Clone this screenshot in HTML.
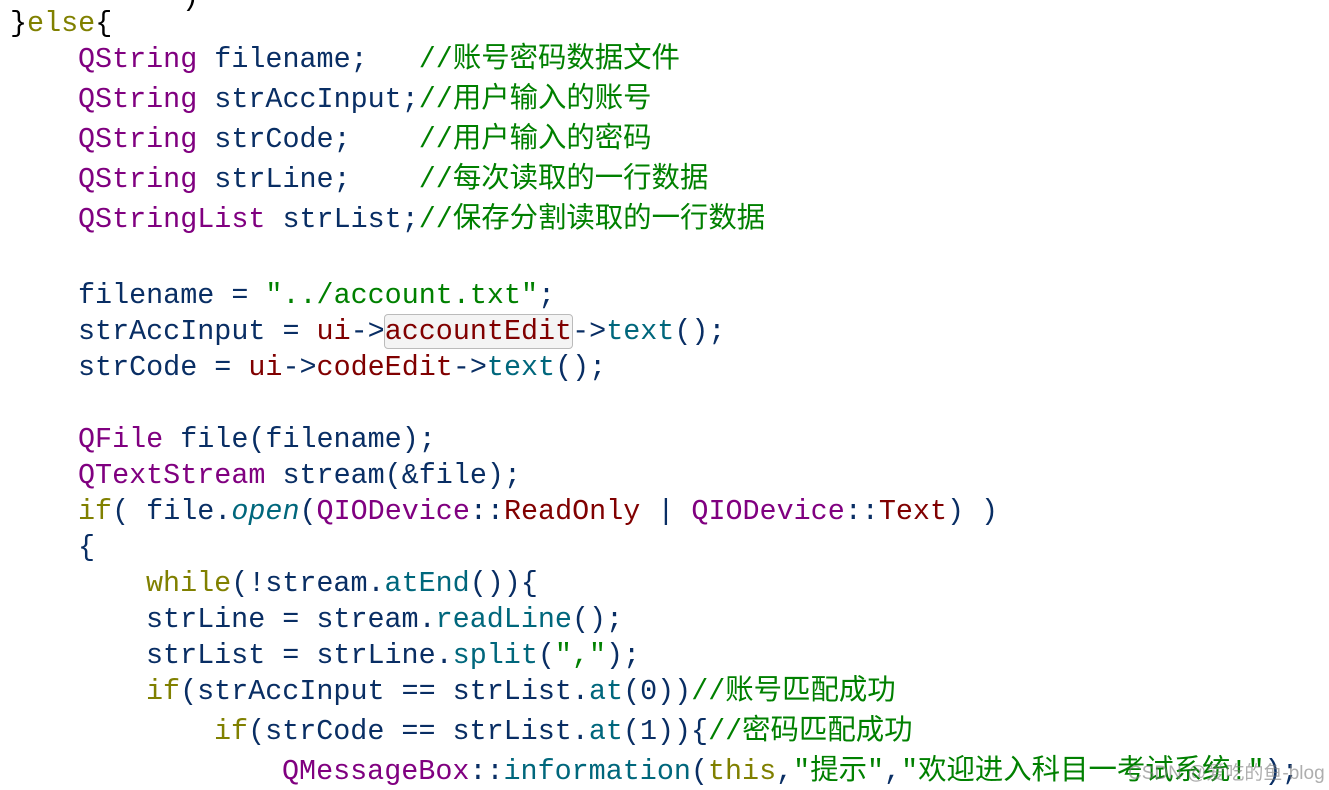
<!DOCTYPE html>
<html><head><meta charset="utf-8"><style>
body{margin:0;width:1329px;height:788px;background:#fff;overflow:hidden;position:relative}
.l{position:absolute;white-space:pre;font-family:"Liberation Mono","Noto Sans CJK SC",monospace;font-size:28.4px;line-height:36px;color:#092e64}
.t{color:#800080}.c{color:#008000;font-family:"Liberation Mono","Noto Sans CJK SC",monospace}.k{color:#808000}.m{color:#800000}.f{color:#00677c}.s{color:#008000}
.b{color:#000}
.h{outline:1px solid #bbb;background:#f4f4f4;border-radius:3px}
.w{position:absolute;left:1128px;top:758px;font-family:"Liberation Sans","Noto Sans CJK SC",sans-serif;font-size:19px;color:rgba(120,120,120,.6)}
</style></head><body>
<div class="l b" style="left:182px;top:-20px">)</div>
<div class="l" style="left:10px;top:6px"><span class="b">}</span><span class="k">else</span><span class="b">{</span></div>
<div class="l" style="left:78px;top:42px"><span class="t">QString</span> filename;   <span class="c">//账号密码数据文件</span></div>
<div class="l" style="left:78px;top:82px"><span class="t">QString</span> strAccInput;<span class="c">//用户输入的账号</span></div>
<div class="l" style="left:78px;top:122px"><span class="t">QString</span> strCode;    <span class="c">//用户输入的密码</span></div>
<div class="l" style="left:78px;top:162px"><span class="t">QString</span> strLine;    <span class="c">//每次读取的一行数据</span></div>
<div class="l" style="left:78px;top:202px"><span class="t">QStringList</span> strList;<span class="c">//保存分割读取的一行数据</span></div>
<div class="l" style="left:78px;top:278px">filename = <span class="s">"../account.txt"</span>;</div>
<div class="l" style="left:78px;top:314px">strAccInput = <span class="m">ui</span>-&gt;<span class="m h">accountEdit</span>-&gt;<span class="f">text</span>();</div>
<div class="l" style="left:78px;top:350px">strCode = <span class="m">ui</span>-&gt;<span class="m">codeEdit</span>-&gt;<span class="f">text</span>();</div>
<div class="l" style="left:78px;top:422px"><span class="t">QFile</span> file(filename);</div>
<div class="l" style="left:78px;top:458px"><span class="t">QTextStream</span> stream(&amp;file);</div>
<div class="l" style="left:78px;top:494px"><span class="k">if</span>( file.<i class="f">open</i>(<span class="t">QIODevice</span>::<span class="m">ReadOnly</span> | <span class="t">QIODevice</span>::<span class="m">Text</span>) )</div>
<div class="l" style="left:78px;top:530px">{</div>
<div class="l" style="left:146px;top:566px"><span class="k">while</span>(!stream.<span class="f">atEnd</span>()){</div>
<div class="l" style="left:146px;top:602px">strLine = stream.<span class="f">readLine</span>();</div>
<div class="l" style="left:146px;top:638px">strList = strLine.<span class="f">split</span>(<span class="s">","</span>);</div>
<div class="l" style="left:146px;top:674px"><span class="k">if</span>(strAccInput == strList.<span class="f">at</span>(0))<span class="c">//账号匹配成功</span></div>
<div class="l" style="left:214px;top:714px"><span class="k">if</span>(strCode == strList.<span class="f">at</span>(1)){<span class="c">//密码匹配成功</span></div>
<div class="l" style="left:282px;top:754px"><span class="t">QMessageBox</span>::<span class="f">information</span>(<span class="k">this</span>,<span class="s">"提示"</span>,<span class="s">"欢迎进入科目一考试系统!"</span>);</div>
<div class="w">CSDN @爱吃的鱼-blog</div>
</body></html>
